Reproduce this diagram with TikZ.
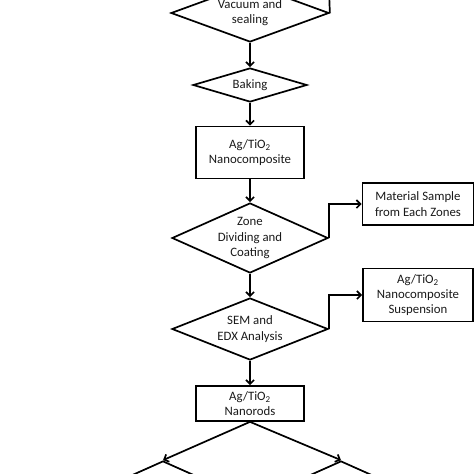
\documentclass[tikz,border=0pt]{standalone}
\usepackage{fontspec}
\setmainfont{Carlito}
\usetikzlibrary{shapes.geometric,arrows.meta}

\begin{document}
\begin{tikzpicture}[x=1pt,y=-1pt,line width=1.7pt,>={Straight Barb[length=4pt,width=8pt]},
  every node/.style={font=\fontsize{12.8}{15.2}\selectfont,align=center,inner sep=0pt,text=black!90},
  every label/.style={font=\fontsize{12.8}{15.2}\selectfont,align=center,text=black!90},
  dia/.style={draw,diamond,aspect=1},
  box/.style={draw,rectangle}]
\useasboundingbox (0,0) rectangle (474,474);
\clip (0,0) rectangle (474,474);
% main column
\node[dia,minimum width=158pt,minimum height=58pt,label=center:{Vacuum and\\sealing}] (vac) at (250,13) {};
\node[dia,minimum width=114pt,minimum height=34pt,label=center:Baking] (bake) at (250,85) {};
\node[box,minimum width=108pt,minimum height=52pt] (comp) at (250,152.5) {Ag/TiO\textsubscript{2}\\Nanocomposite};
\node[dia,minimum width=156pt,minimum height=70pt,label=center:{Zone\\Dividing and\\Coating}] (zone) at (250,238) {};
\node[dia,minimum width=156pt,minimum height=62pt,label=center:{SEM and\\EDX Analysis}] (sem) at (250,329) {};
\node[box,minimum width=108pt,minimum height=35pt] (rods) at (250,403.5) {Ag/TiO\textsubscript{2}\\Nanorods};
\node[dia,minimum width=156pt,minimum height=70pt] (left) at (163,496) {};
\node[dia,minimum width=156pt,minimum height=70pt] (right) at (341,496) {};
% side boxes
\node[box,minimum width=111pt,minimum height=42pt] (mat) at (418,204) {Material Sample\\from Each Zones};
\node[box,minimum width=110pt,minimum height=53pt] (susp) at (418,295) {Ag/TiO\textsubscript{2}\\Nanocomposite\\Suspension};
\coordinate (loop) at (329,-10);
% connectors
\draw (vac.east) -- (loop);
\draw[->] (vac.south) -- (bake.north);
\draw[->] (bake.south) -- (comp.north);
\draw[->] (comp.south) -- (zone.north);
\draw[->] (zone.south) -- (sem.north);
\draw[->] (sem.south) -- (rods.north);
\draw[->] (zone.east) |- (mat.west);
\draw[->] (sem.east) |- (susp.west);
\draw[->] (rods.south) -- (left.north);
\draw[->] (rods.south) -- (right.north);
\end{tikzpicture}
\end{document}
